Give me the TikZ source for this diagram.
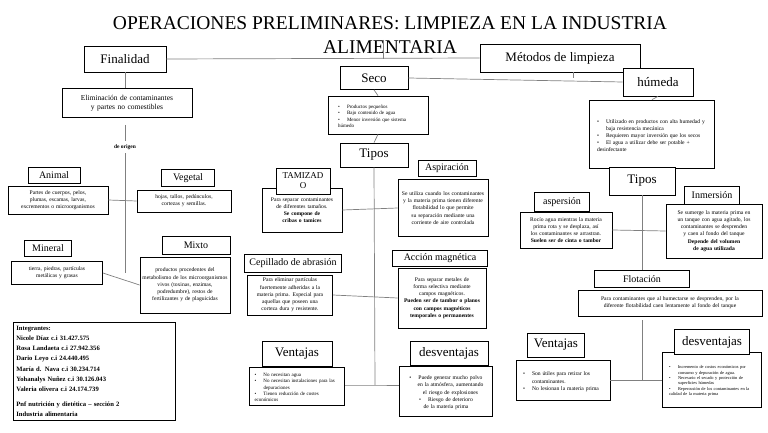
\documentclass[tikz,border=0pt]{standalone}
\usepackage{fontspec}
\setmainfont{Liberation Serif}
\hyphenpenalty=10000
\exhyphenpenalty=10000
\newcommand\bi{\par\noindent\hangindent=9pt\hangafter=1\makebox[9pt][l]{\textbullet}}
\begin{document}
\begin{tikzpicture}[x=1pt,y=-1pt,
  bx/.style={draw,line width=0.8pt,inner sep=1pt,align=center,fill=white},
  lbl/.style={bx,font=\fontsize{10}{11}\selectfont},
  big/.style={bx,font=\fontsize{13}{14}\selectfont},
  txt/.style={bx,font=\fontsize{5.6}{7.2}\selectfont},
  conn/.style={draw=gray,line width=0.7pt}]
\useasboundingbox (0,0) rectangle (768,433);
\node[font=\fontsize{19.5}{24}\selectfont,align=center] (title) at (390,35) {OPERACIONES PRELIMINARES: LIMPIEZA EN LA INDUSTRIA\\ALIMENTARIA};
% top level
\node[big,minimum width=82,minimum height=26] (fin) at (125,59) {Finalidad};
\node[big,minimum width=160,minimum height=28] (met) at (560,58) {Métodos de limpieza};
\coordinate (tv) at (383,40);
\draw[conn] (fin.east) -- (met.west);
\draw[conn] (tv) -- (383,59);
\node[big,minimum width=68,minimum height=23] (seco) at (374,78) {Seco};
\node[big,minimum width=70,minimum height=28] (hum) at (658,82) {húmeda};
\draw[conn] (seco.east) -- (hum.west);
\draw[conn] (met.south) ++(13,0) coordinate (ms) -- (ms |- seco.east);
% left branch
\node[bx,font=\fontsize{7.5}{9}\selectfont,minimum width=130,minimum height=29,text width=124] (elim) at (127,103) {Eliminación de contaminantes\\y partes no comestibles};
\draw[conn] (fin.south) -- (fin.south |- elim.north);
\node[font=\bfseries\fontsize{5.5}{6}\selectfont] (orig) at (125,147) {de origen};
\coordinate (o1) at (125,125);
\draw[conn] (o1) -- (orig.north);
\coordinate (o2) at (125,273);
\draw[conn] (orig.south) -- (o2);
\node[txt,minimum width=100,minimum height=28,text width=96] (aniT) at (58,200) {Partes de cuerpos, pelos, plumas, escamas, larvas, excrementos o microorganismos};
\node[lbl,minimum width=52,minimum height=16] (ani) at (54,175) {Animal};
\node[txt,minimum width=94,minimum height=22,text width=80] (vegT) at (184,201) {hojas, tallos, pedúnculos, cortezas y semillas.};
\node[lbl,minimum width=53,minimum height=17] (veg) at (188,178) {Vegetal};
\draw[conn] (aniT.east) -- (vegT.west);
\node[txt,minimum width=91,minimum height=23,text width=80] (minT) at (57,273) {tierra, piedras, partículas metálicas y grasas};
\node[lbl,minimum width=47,minimum height=16] (min) at (48,248) {Mineral};
\node[txt,minimum width=90,minimum height=56,text width=86] (mixT) at (185,285) {productos procedentes del metabolismo de los microorganismos vivos (toxinas, enzimas, podredumbre), restos de fertilizantes y de plaguicidas};
\node[lbl,minimum width=68,minimum height=18] (mix) at (196,245) {Mixto};
\draw[conn] (minT.east) -- (mixT.west);
\node[bx,font=\bfseries\fontsize{6.6}{10.2}\selectfont,align=left,anchor=north west,minimum width=162,minimum height=98,text width=156] (int) at (13,322) {Integrantes:\\Nicole Díaz c.i 31.427.575\\Rosa Landaeta c.i 27.942.356\\Dario Leyo c.i 24.440.495\\María d. Nava c.i 30.234.714\\Yohanalys Nuñez c.i 30.126.043\\Valeria olivera c.i 24.174.739\\[5pt]Pnf nutrición y dietética -- sección 2\\Industria alimentaria};
% middle
\node[txt,minimum width=100,minimum height=38,text width=80,align=left,font=\fontsize{5}{6.3}\selectfont] (secoT) at (378,115) {\bi Productos pequeños\bi Bajo contenido de agua\bi Menor inversión que sistema húmedo};
\draw[conn] (seco.south) -- (secoT.north);
\node[big,minimum width=68,minimum height=24] (tip) at (374,155) {Tipos};
\draw[conn] (secoT.south) -- (tip.north);
\coordinate (tb) at (375,385);
\draw[conn] (tip.south) -- (tb);
\node[txt,minimum width=80,minimum height=44,text width=74] (tamT) at (302,210) {Para separar contaminantes de diferentes tamaños.\\\textbf{Se compone de cribas o tamices}};
\node[lbl,minimum width=54,minimum height=26,font=\fontsize{9}{10}\selectfont] (tam) at (303,181) {TAMIZAD\\O};
\node[txt,minimum width=90,minimum height=57,text width=86] (aspT) at (443,208) {Se utiliza cuando los contaminantes y la materia prima tienen diferente flotabilidad lo que permite su separación mediante una corriente de aire controlada};
\node[lbl,minimum width=58,minimum height=16] (asp) at (447,168) {Aspiración};
\draw[conn] (tamT.east) -- (aspT.west);
\node[txt,minimum width=85,minimum height=40,text width=81] (cepT) at (290,295) {Para eliminar partículas fuertemente adheridas a la materia prima. Especial para aquellas que poseen una corteza dura y resistente.};
\node[lbl,minimum width=97,minimum height=18] (cep) at (293,263) {Cepillado de abrasión};
\node[txt,minimum width=88,minimum height=60,text width=82] (magT) at (442,298) {Para separar metales de forma selectiva mediante campos magnéticos.\\\textbf{Pueden ser de tambor o planos con campos magnéticos temporales o permanentes}};
\node[lbl,minimum width=95,minimum height=16] (mag) at (440,258) {Acción magnética};
\draw[conn] (cepT.east) -- (magT.west);
\node[txt,minimum width=95,minimum height=38,text width=85,align=left,font=\fontsize{5}{6.3}\selectfont] (venT) at (297,386) {\bi No necesitan agua\bi No necesitan instalaciones para las depuraciones\bi Tienen reducción de costes económicos};
\node[big,minimum width=70,minimum height=25] (ven) at (297,354) {Ventajas};
\node[txt,minimum width=93,minimum height=50,text width=89] (desT) at (446,391) {\bi Puede generar mucho polvo en la atmósfera, aumentando el riesgo de explosiones\bi Riesgo de deterioro de la materia prima};
\node[big,minimum width=78,minimum height=24] (des) at (449,353) {desventajas};
\draw[conn] (venT.east |- tb) -- (tb) -- (desT.west |- tb);
% right
\node[txt,minimum width=125,minimum height=68,text width=110,align=left] (humT) at (652,134) {\bi Utilizado en productos con alta humedad y baja resistencia mecánica\bi Requieren mayor inversión que los secos\bi El agua a utilizar debe ser potable + desinfectante};
\draw[conn] (hum.south) -- (humT.north);
\node[big,minimum width=66,minimum height=28] (tip2) at (642,181) {Tipos};
\node[txt,minimum width=92,minimum height=36,text width=90] (aspeT) at (566,230) {Rocío agua mientras la materia prima rota y se desplaza, así los contaminantes se arrastran.\\\textbf{Suelen ser de cinta o tambor}};
\node[lbl,minimum width=55,minimum height=19] (aspe) at (562,202) {aspersión};
\node[txt,minimum width=96,minimum height=54,text width=92] (inmT) at (714,231) {Se sumerge la materia prima en un tanque con agua agitado, los contaminantes se desprenden y caen al fondo del tanque\\\textbf{Depende del volumen de agua utilizada}};
\node[lbl,minimum width=55,minimum height=18] (inm) at (712,195) {Inmersión};
\draw[conn] (aspeT.east) -- (inmT.west);
\node[txt,minimum width=184,minimum height=26,text width=150] (floT) at (670,303) {Para contaminantes que al humectarse se desprenden, por la diferente flotabilidad caen lentamente al fondo del tanque};
\node[lbl,minimum width=95,minimum height=17] (flo) at (642,279) {Flotación};
\draw[conn] (tip2.south) -- (flo.north);
\node[txt,minimum width=94,minimum height=40,text width=80,align=left] (ven2T) at (563,380) {\bi Son útiles para retirar los contaminantes.\bi No lesionan la materia prima};
\node[big,minimum width=57,minimum height=24] (ven2) at (556,345) {Ventajas};
\node[txt,minimum width=99,minimum height=55,text width=86,align=left,font=\fontsize{4.4}{5.4}\selectfont] (des2T) at (712,380) {\bi Incremento de costos económicos por consumo y depuración de agua.\bi Necesario el secado y protección de superficies húmedas\bi Repercusión de los contaminantes en la calidad de la materia prima};
\node[big,minimum width=75,minimum height=25] (des2) at (712,342) {desventajas};
\coordinate (fb) at (642,320);
\draw[conn] (fb) -- (642,380);
\draw[conn] (ven2T.east) -- (des2T.west |- ven2T.east);
\end{tikzpicture}
\end{document}
